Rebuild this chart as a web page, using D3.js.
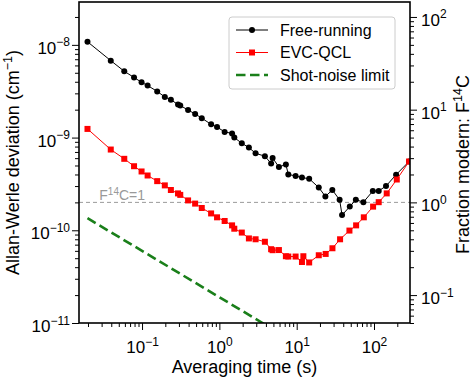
<!DOCTYPE html>
<html><head><meta charset="utf-8">
<script src="https://cdn.jsdelivr.net/npm/d3@7"></script>
<style>body{margin:0;background:#fff} svg{display:block;font-family:"Liberation Sans",Arial,sans-serif}</style>
</head><body><svg id="c" width="474" height="380"></svg>
<script>
// ---- data ----
const tauFree = [0.0197,0.0394,0.0589,0.0788,0.0986,0.118,0.157,0.197,0.236,0.292,0.312,0.394,0.486,0.592,0.782,0.933,1.17,1.46,1.56,1.95,2.41,2.94,3.88,4.67,4.88,5.89,7.25,7.79,9.68,11.7,14.5,19.3,23.5,28.9,35.9,38.6,48.6,58.2,72.9,96.5,115,143,193,284];
const adevFree = [1.08e-8,6.76e-9,5.19e-9,4.45e-9,3.95e-9,3.64e-9,3.15e-9,2.74e-9,2.56e-9,2.27e-9,2.22e-9,1.98e-9,1.80e-9,1.62e-9,1.39e-9,1.30e-9,1.15e-9,1.11e-9,1.00e-9,8.69e-10,7.80e-10,6.76e-10,6.30e-10,5.25e-10,6.02e-10,4.82e-10,5.13e-10,4.00e-10,3.86e-10,3.70e-10,3.60e-10,2.89e-10,2.32e-10,2.72e-10,2.13e-10,1.46e-10,1.80e-10,2.14e-10,2.01e-10,2.65e-10,2.66e-10,3.00e-10,3.98e-10,5.52e-10];
const tauEvc = [0.0197,0.0394,0.0589,0.0788,0.0986,0.118,0.157,0.197,0.236,0.292,0.312,0.394,0.486,0.592,0.782,0.933,1.17,1.46,1.56,1.95,2.41,2.94,3.88,4.67,4.88,5.89,7.25,7.79,9.68,11.7,12.2,14.5,19.3,23.7,29.0,36.4,48.1,58.7,73.8,97.3,115,146,197,284];
const adevEvc = [1.24e-9,7.43e-10,5.90e-10,4.91e-10,4.31e-10,3.90e-10,3.39e-10,3.05e-10,2.72e-10,2.50e-10,2.41e-10,2.10e-10,1.94e-10,1.74e-10,1.52e-10,1.38e-10,1.26e-10,1.13e-10,1.04e-10,9.45e-11,8.17e-11,8.00e-11,7.52e-11,6.25e-11,6.10e-11,6.12e-11,5.25e-11,5.21e-11,5.21e-11,4.55e-11,5.25e-11,4.50e-11,5.38e-11,5.56e-11,6.40e-11,8.00e-11,9.93e-11,1.13e-10,1.38e-10,1.80e-10,2.01e-10,2.50e-10,3.53e-10,5.52e-10];
const tauShot = [0.0197, 300];
const adevShot = [1.35e-10, 1.1e-12];
const f14cRef = 2e-10;           // Allan-Werle deviation equal to F14C = 1
const legendNames = ["Free-running","EVC-QCL","Shot-noise limit"];
const xMajor = [0.1,1,10,100], xExp = ["−1","0","1","2"];
const yMajor = [1e-11,1e-10,1e-9,1e-8], yExp = ["−11","−10","−9","−8"];
const fMajor = [0.1,1,10,100], fExp = ["−1","0","1","2"];

// ---- layout ----
const L=79, R=410, T=2, B=323;
const svg = d3.select("#c");
const x = d3.scaleLog().domain([0.0153, 292]).range([L, R]);
const y = d3.scaleLog().domain([1e-11, 2.9e-8]).range([B, T]);
const yF = d3.scaleLog().domain([1e-11/f14cRef, 2.9e-8/f14cRef]).range([B, T]);

svg.append("defs").append("clipPath").attr("id","clip")
  .append("rect").attr("x",L).attr("y",T).attr("width",R-L).attr("height",B-T);

function isMajor(v){ const l=Math.log10(v); return Math.abs(l-Math.round(l))<1e-6; }
function supLabel(sel, exps, majors){
  sel.selectAll(".tick text").each(function(d){
    const i = majors.findIndex(m=>Math.abs(Math.log10(m)-Math.log10(d))<1e-6);
    const t = d3.select(this); t.text("");
    if(i<0) return;
    t.append("tspan").text("10");
    t.append("tspan").attr("dy",-7.5).attr("font-size",12).text(exps[i]);
  });
}
function styleAxis(g){
  g.select(".domain").remove();
  g.selectAll(".tick line").attr("stroke","#000").attr("stroke-width",1);
  g.selectAll(".tick text").attr("font-size",17).attr("fill","#000").attr("font-family","Liberation Sans, Arial, sans-serif");
}

// x axis
const xt = x.ticks();
const gx = svg.append("g").attr("transform",`translate(0,${B})`)
  .call(d3.axisBottom(x).tickValues(xt).tickSize(0).tickFormat(d=>isMajor(d)?"x":""));
gx.selectAll(".tick line").attr("y2",d=>isMajor(d)?7:4);
styleAxis(gx);
gx.selectAll(".tick text").attr("y",30).attr("dy",0);
supLabel(gx, xExp, xMajor);

// left y axis
const yt = y.ticks();
const gy = svg.append("g").attr("transform",`translate(${L},0)`)
  .call(d3.axisLeft(y).tickValues(yt).tickSize(0).tickFormat(d=>isMajor(d)?"x":""));
gy.selectAll(".tick line").attr("x2",d=>isMajor(d)?-7:-4);
styleAxis(gy);
gy.selectAll(".tick text").attr("x",-9).attr("dy",8.5);
supLabel(gy, yExp, yMajor);

// right y axis (F14C)
const ft = yF.ticks();
const gf = svg.append("g").attr("transform",`translate(${R},0)`)
  .call(d3.axisRight(yF).tickValues(ft).tickSize(0).tickFormat(d=>isMajor(d)?"x":""));
gf.selectAll(".tick line").attr("x2",d=>isMajor(d)?7:4);
styleAxis(gf);
gf.selectAll(".tick text").attr("x",11).attr("dy",8.5);
supLabel(gf, fExp, fMajor);

// reference line F14C=1
const plot = svg.append("g").attr("clip-path","url(#clip)");
plot.append("line").attr("x1",L).attr("x2",R).attr("y1",y(f14cRef)).attr("y2",y(f14cRef))
  .attr("stroke","#9a9a9a").attr("stroke-width",1).attr("stroke-dasharray","4,3");
const rl = svg.append("text").attr("x",x(0.028)).attr("y",y(f14cRef)-2.5)
  .attr("font-size",14).attr("fill","#999");
rl.append("tspan").text("F");
rl.append("tspan").attr("dy",-5).attr("font-size",10).text("14");
rl.append("tspan").attr("dy",5).text("C=1");

const line = d3.line().x(d=>x(d[0])).y(d=>y(d[1]));
const free = tauFree.map((t,i)=>[t,adevFree[i]]);
const evc = tauEvc.map((t,i)=>[t,adevEvc[i]]);
const shot = tauShot.map((t,i)=>[t,adevShot[i]]);

plot.append("path").datum(free).attr("d",line).attr("fill","none").attr("stroke","#000").attr("stroke-width",1);
plot.selectAll("circle.f").data(free).join("circle").attr("class","f")
  .attr("cx",d=>x(d[0])).attr("cy",d=>y(d[1])).attr("r",3).attr("fill","#000");
plot.append("path").datum(evc).attr("d",line).attr("fill","none").attr("stroke","#ff0000").attr("stroke-width",1);
plot.selectAll("rect.e").data(evc).join("rect").attr("class","e")
  .attr("x",d=>x(d[0])-3).attr("y",d=>y(d[1])-3).attr("width",6).attr("height",6).attr("fill","#ff0000");
plot.append("path").datum(shot).attr("d",line).attr("fill","none").attr("stroke","#1a7f1a")
  .attr("stroke-width",2.6).attr("stroke-dasharray","9.5,4.5");

// frame
svg.append("rect").attr("x",L).attr("y",T).attr("width",R-L).attr("height",B-T)
  .attr("fill","none").attr("stroke","#000").attr("stroke-width",1.6);

// legend
const lg = svg.append("g");
lg.append("rect").attr("x",229).attr("y",17).attr("width",166).attr("height",72).attr("rx",3)
  .attr("fill","#fff").attr("fill-opacity",0.85).attr("stroke","#cccccc").attr("stroke-width",1);
const rows=[30,52.5,75];
lg.append("line").attr("x1",236).attr("x2",268).attr("y1",rows[0]).attr("y2",rows[0]).attr("stroke","#000").attr("stroke-width",1);
lg.append("circle").attr("cx",252).attr("cy",rows[0]).attr("r",3).attr("fill","#000");
lg.append("line").attr("x1",236).attr("x2",268).attr("y1",rows[1]).attr("y2",rows[1]).attr("stroke","#ff0000").attr("stroke-width",1);
lg.append("rect").attr("x",252-3).attr("y",rows[1]-3).attr("width",6).attr("height",6).attr("fill","#ff0000");
lg.append("line").attr("x1",236).attr("x2",268).attr("y1",rows[2]).attr("y2",rows[2]).attr("stroke","#1a7f1a").attr("stroke-width",2.6).attr("stroke-dasharray","9.5,4.5");
legendNames.forEach((n,i)=>lg.append("text").attr("x",280).attr("y",rows[i]+5.5).attr("font-size",16).attr("fill","#000").text(n));

// axis titles
svg.append("text").attr("x",(L+R)/2).attr("y",373).attr("text-anchor","middle").attr("font-size",18).text("Averaging time (s)");
const lt = svg.append("text").attr("transform",`translate(19,${(T+B)/2}) rotate(-90)`).attr("text-anchor","middle").attr("font-size",18);
lt.append("tspan").text("Allan-Werle deviation (cm");
lt.append("tspan").attr("dy",-7).attr("font-size",12.5).text("−1");
lt.append("tspan").attr("dy",7).text(")");
const rt = svg.append("text").attr("transform",`translate(469,${(T+B)/2+2}) rotate(-90)`).attr("text-anchor","middle").attr("font-size",18);
rt.append("tspan").text("Fraction modern: F");
rt.append("tspan").attr("dy",-7).attr("font-size",12.5).text("14");
rt.append("tspan").attr("dy",7).text("C");
</script></body></html>
